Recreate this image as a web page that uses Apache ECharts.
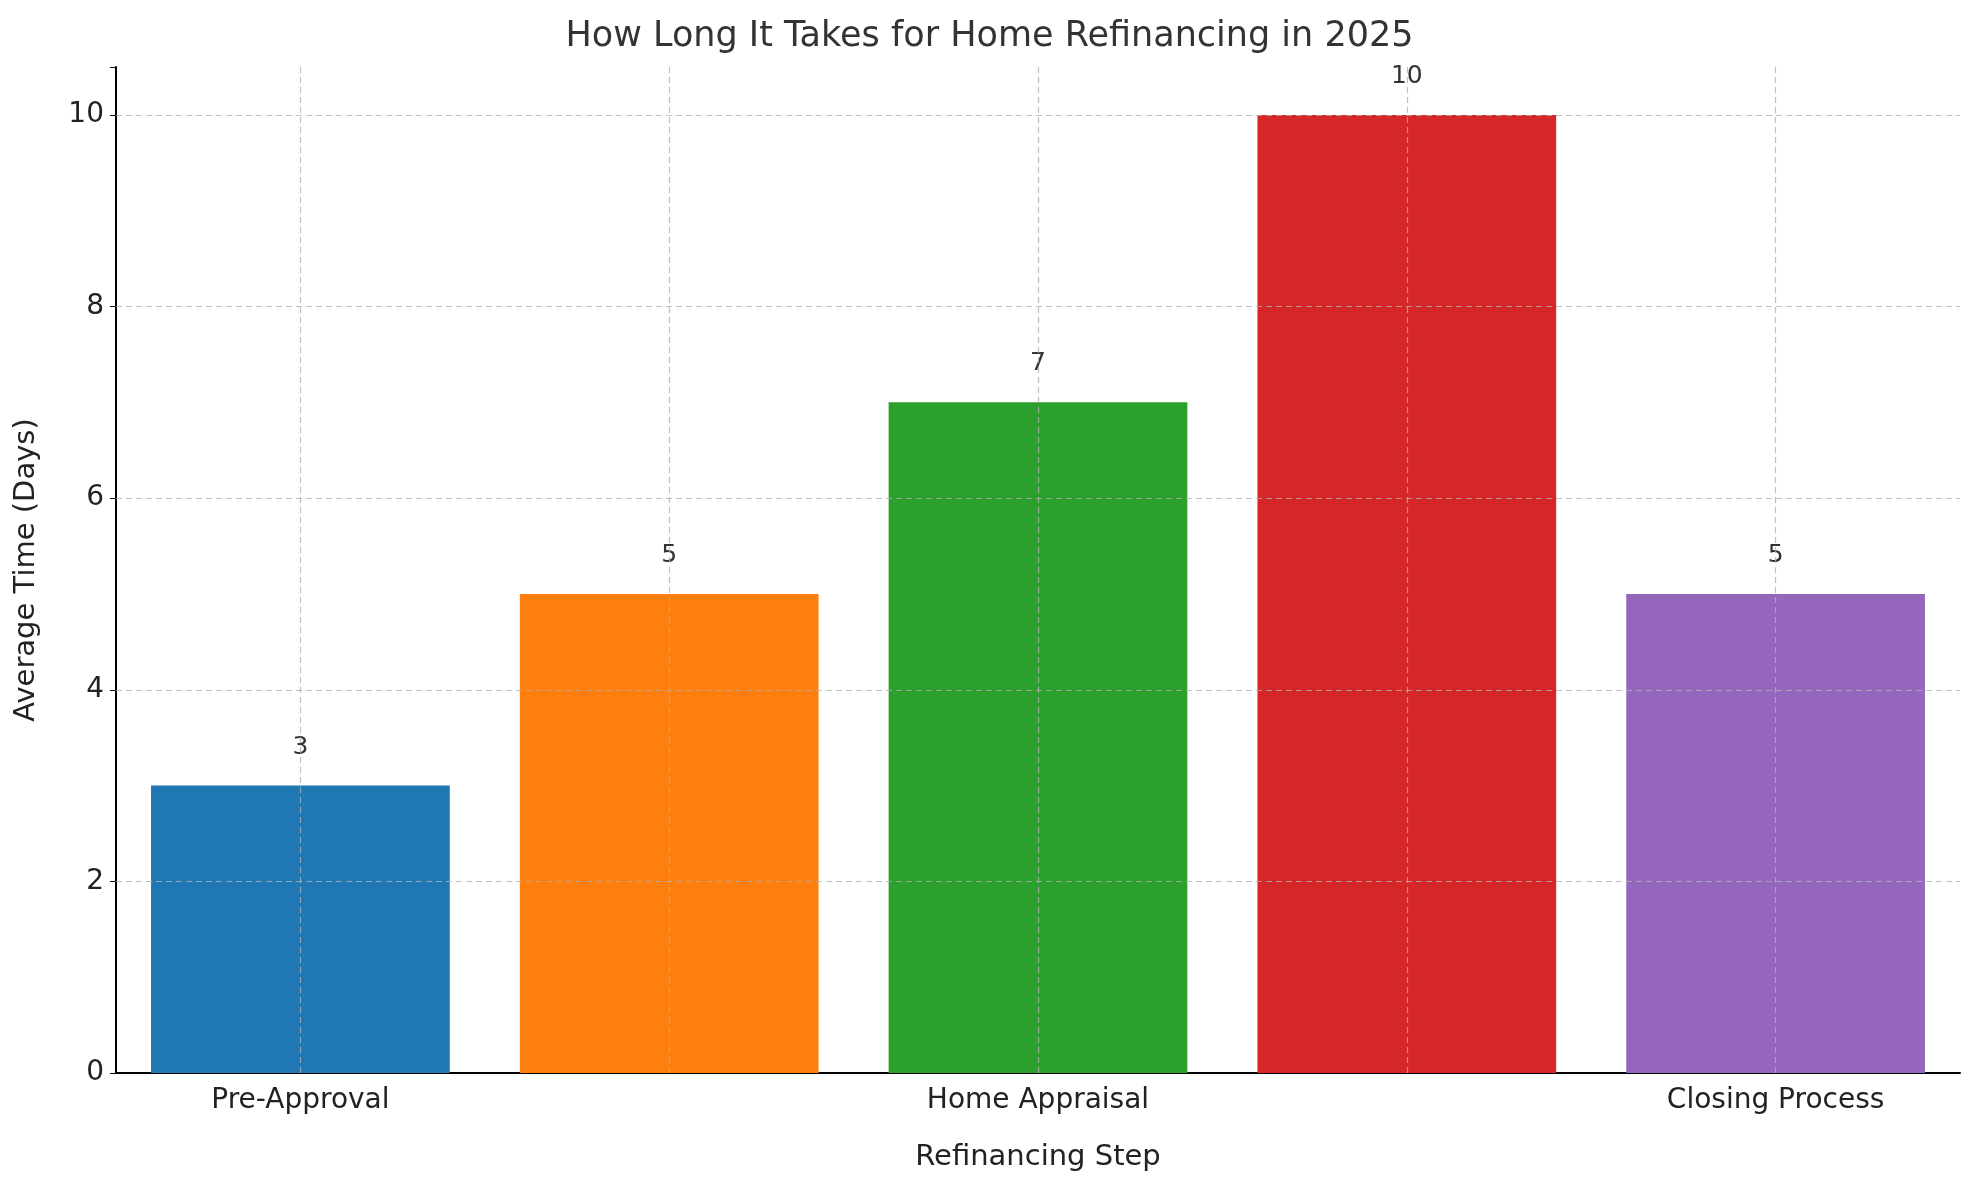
<!DOCTYPE html>
<html><head><meta charset="utf-8">
<script src="https://cdn.jsdelivr.net/npm/echarts@6/dist/echarts.min.js"></script>
<style>html,body{margin:0;padding:0;background:#fff}#c{width:1979px;height:1180px}</style>
</head><body><div id="c"></div>
<script>
const categories = ['Pre-Approval','Application Submission','Home Appraisal','Underwriting','Closing Process'];
const values = [3,5,7,10,5];
const colors = ['#1f77b4','#ff7f0e','#2ca02c','#d62728','#9467bd'];
const yTicks = [0,2,4,6,8,10];
const font = 'DejaVu Sans';
const chart = echarts.init(document.getElementById('c'));
const dashed = {color:'#b0b0b0',type:[6,4],width:1.2,opacity:0.8};
chart.setOption({
  animation:false,
  textStyle:{fontFamily:font},
  title:{text:'How Long It Takes for Home Refinancing in 2025',left:'center',top:14,
    textStyle:{fontFamily:font,fontSize:35,fontWeight:'normal',color:'#333'}},
  grid:{left:116,right:19,top:67,bottom:107},
  xAxis:{type:'category',data:categories,name:'Refinancing Step',nameLocation:'middle',nameGap:70,
    nameTextStyle:{fontSize:29,color:'#222'},
    axisLine:{lineStyle:{color:'#000',width:2}},axisTick:{alignWithLabel:true,length:6,lineStyle:{color:'#000'}},
    axisLabel:{fontSize:28,color:'#222',margin:14},splitLine:{show:false}},
  yAxis:{type:'value',min:0,max:10.5,interval:2,name:'Average Time (Days)',nameLocation:'middle',nameGap:75,
    nameTextStyle:{fontSize:29,color:'#222'},
    axisLine:{show:true,lineStyle:{color:'#000',width:2}},axisTick:{show:true,length:6,lineStyle:{color:'#000'}},
    axisLabel:{fontSize:28,color:'#222',margin:12,formatter:v=>yTicks.includes(v)?String(v):''},
    splitLine:{show:false}},
  series:[{type:'bar',barCategoryGap:'19%',
    data:values.map((v,i)=>({value:v,itemStyle:{color:colors[i]}})),
    label:{show:true,position:'top',distance:26,fontSize:25,color:'#333'},
    markLine:{silent:true,symbol:'none',label:{show:false},lineStyle:dashed,z:10,
      data:categories.map(c=>({xAxis:c})).concat(yTicks.filter(v=>v>0).map(v=>({yAxis:v})))}
  }]
});
</script></body></html>
